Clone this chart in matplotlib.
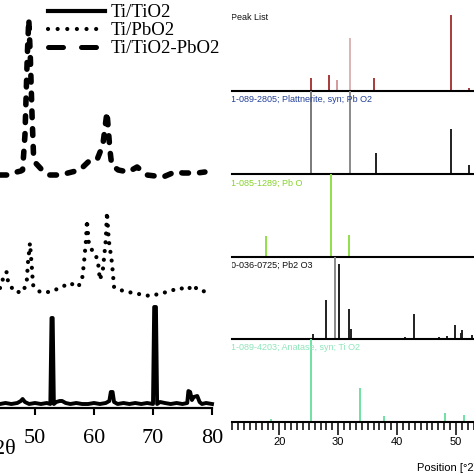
import matplotlib
matplotlib.use("Agg")
import matplotlib.pyplot as plt
from matplotlib.lines import Line2D
import numpy as np

# ---- left panel: XRD patterns (2theta, height in px above own baseline) ----
tio2_pts = [(44.07, 0), (45.0, 1), (46.0, 0), (47.0, 1), (47.6, 3), (47.9, 5), (48.3, 2),
            (49.0, 0), (50.0, 1), (51.0, 0), (52.0, 1), (52.6, 0), (52.8, 86), (53.0, 86),
            (53.2, 0), (53.6, 2), (54.2, 3), (54.6, 3), (55.2, 1), (56.0, 0), (57.0, 1),
            (58.0, 0), (59.0, 0), (60.0, 1), (61.0, 0), (62.0, 1), (62.6, 3), (62.85, 12),
            (63.15, 12), (63.4, 2), (64.0, 0), (65.0, 1), (66.0, 0), (67.0, 1), (68.0, 0),
            (69.0, 1), (70.0, 0), (70.2, 97), (70.5, 97), (70.7, 0), (71.2, 2), (72.0, 1),
            (73.0, 0), (74.0, 1), (75.0, 0), (75.8, 1), (76.0, 13), (76.3, 12), (76.6, 4),
            (76.9, 7), (77.5, 8), (77.9, 2), (78.3, 0), (79.0, 1), (80.0, 0)]

pbo2_pts = [(44.07, 4), (44.9, 19), (45.26, 20), (45.43, 10), (46.1, 4), (46.6, 0), (47.97, 0),
            (48.6, 10), (48.8, 29), (49.15, 49), (49.5, 22), (49.66, 7), (50.85, 0), (52.5, 0),
            (54.2, 4), (55.9, 9), (57.3, 5), (57.97, 12), (58.3, 29), (58.65, 52), (58.8, 72),
            (59.15, 47), (59.66, 42), (60.17, 39), (60.68, 30), (61.0, 12), (61.5, 22),
            (62.0, 52), (62.2, 80), (62.5, 52), (63.05, 29), (63.4, 5), (64.4, 2), (66.6, -1),
            (69.5, -4), (71.7, -1), (74.6, 4), (75.8, 2), (76.8, 7), (77.6, 2), (80.0, -1)]

tio2_pbo2_pts = [(44.07, 0), (45.5, 0), (46.9, 3), (47.6, 4), (47.9, 5), (48.3, 40), (48.7, 120),
                 (48.95, 156), (49.2, 120), (49.5, 60), (49.75, 20), (50.1, 12), (51.2, 5),
                 (52.5, 0), (54.2, 0), (55.6, 2), (57.6, 5), (59.0, 13), (60.5, 15), (61.5, 30),
                 (62.2, 63), (62.7, 25), (63.0, 10), (64.1, 5), (65.8, 3), (67.3, 8), (69.0, 0),
                 (71.7, -2), (73.7, 3), (75.1, 2), (77.5, 2), (78.8, 3)]

legend_labels = ["Ti/TiO2", "Ti/PbO2", "Ti/TiO2-PbO2"]
left_ticks = [50, 60, 70, 80]

# ---- right panel: reference stick patterns (2theta, height px) ----
peaklist_pos = [25.4, 28.45, 29.8, 32.05, 36.0, 49.1, 52.15]
peaklist_h = [13, 16, 11, 53, 13, 76, 3]
peaklist_col = ["#a83a3a", "#a83a3a", "#d39a9a", "#d9b4b4", "#a83a3a", "#a83a3a", "#a83a3a"]

plattnerite_pos = [25.4, 32.0, 36.35, 49.1, 52.2]
plattnerite_h = [83, 83, 21, 45, 9]
plattnerite_col = ["#7a7a7a", "#8a8a8a", "#202020", "#202020", "#202020"]

pbo_pos = [17.8, 28.8, 31.85]
pbo_h = [21, 83, 22]

pb2o3_pos = [25.7, 27.9, 29.45, 30.2, 31.8, 32.1, 41.35, 42.8, 47.1, 48.5, 49.8, 50.9, 51.1, 52.8]
pb2o3_h = [5, 39, 82, 75, 30, 10, 2, 25, 2, 3, 14, 6, 9, 4]

anatase_pos = [18.65, 25.4, 33.7, 37.8, 48.2, 51.4]
anatase_h = [3, 83, 34, 6, 9, 7]

panel_labels = ["Peak List", "01-089-2805; Plattnerite, syn; Pb O2", "01-085-1289; Pb O",
                "00-036-0725; Pb2 O3", "01-089-4203; Anatase, syn; Ti O2"]
panel_label_cols = ["#111111", "#23409a", "#86d42a", "#111111", "#8fe6bb"]

W = 474
def fx(px):
    return px / W
def fy(py):
    return 1 - py / W

serif = ["Liberation Serif", "DejaVu Serif"]
narrow = ["Liberation Sans Narrow", "Liberation Sans", "DejaVu Sans"]

fig = plt.figure(figsize=(4.74, 4.74), dpi=100)

# left axes
ax = fig.add_axes([0, fy(408), fx(212), 408 / W])
ax.set_xlim(44.07, 80)
ax.set_ylim(0, 408)
for s in ["top", "left", "right"]:
    ax.spines[s].set_visible(False)
ax.spines["bottom"].set_linewidth(1.6)
ax.set_yticks([])
ax.set_xticks(left_ticks)
ax.tick_params(axis="x", direction="out", length=5, width=1.5, pad=10)
for lab in ax.get_xticklabels():
    lab.set_family(serif)
    lab.set_fontsize(16)

x, y = np.array(tio2_pts).T
ax.plot(x, y + 4, color="black", lw=2.8, solid_joinstyle="round", clip_on=False)
x, y = np.array(pbo2_pts).T
ax.plot(x, y + 116, color="black", lw=3.0, dashes=(0.01, 2.1),
        dash_capstyle="round", clip_on=False)
x, y = np.array(tio2_pbo2_pts).T
ax.plot(x, y + 233, color="black", lw=4.0, dashes=(1.2, 2.0),
        dash_capstyle="round", clip_on=False)

handles = [Line2D([], [], color="black", lw=3.0),
           Line2D([], [], color="black", lw=3.0, dashes=(0.01, 2.3), dash_capstyle="round"),
           Line2D([], [], color="black", lw=3.6, dashes=(3, 3.6), dash_capstyle="round")]
fig.legend(handles, legend_labels, loc="upper left",
           bbox_to_anchor=(fx(48), fy(4)), frameon=False, borderpad=0, borderaxespad=0,
           handlelength=3.05, handletextpad=0.28, labelspacing=0.05,
           prop={"family": serif, "size": 13.5})

fig.text(fx(16), fy(449), "2\u03b8", ha="right", va="center", fontsize=16, family=serif)

# right axes (stacked stick panels)
tops = [8, 91, 174, 256, 339]
sticks = [(peaklist_pos, peaklist_h, peaklist_col),
          (plattnerite_pos, plattnerite_h, plattnerite_col),
          (pbo_pos, pbo_h, "#8fe04a"),
          (pb2o3_pos, pb2o3_h, ["#8a8a8a" if p == 29.45 else "#202020" for p in pb2o3_pos]),
          (anatase_pos, anatase_h, "#70e0a4")]

for i, (pos, h, col) in enumerate(sticks):
    rax = fig.add_axes([fx(232), fy(tops[i] + 83), fx(474) - fx(232), 83 / W])
    rax.set_xlim(11.97, 53.06)
    rax.set_ylim(0, 83)
    rax.patch.set_alpha(0)
    for s in ["top", "left", "right"]:
        rax.spines[s].set_visible(False)
    rax.spines["bottom"].set_linewidth(1.5)
    rax.vlines(pos, 0, h, colors=col, lw=1.4)
    rax.set_yticks([])
    lx = 11.8 if i == 0 else 10.9
    rax.text(lx, 74, panel_labels[i], color=panel_label_cols[i], fontsize=6.5, family=narrow,
             va="center", ha="left", clip_on=True)
    if i < 4:
        rax.set_xticks([])
    else:
        rax.set_xticks([20, 30, 40, 50])
        rax.set_xticks(np.arange(12, 54), minor=True)
        rax.tick_params(axis="x", which="major", direction="out", length=9, width=1.1, pad=2)
        rax.tick_params(axis="x", which="minor", direction="out", length=5.5, width=1.1)
        for lab in rax.get_xticklabels():
            lab.set_family(narrow)
            lab.set_fontsize(8)

fig.text(fx(417), fy(468), "Position [\u00b02Theta] (Copper (Cu))", fontsize=8, family=narrow,
         ha="left", va="center")

fig.savefig("out.png", dpi=100)
